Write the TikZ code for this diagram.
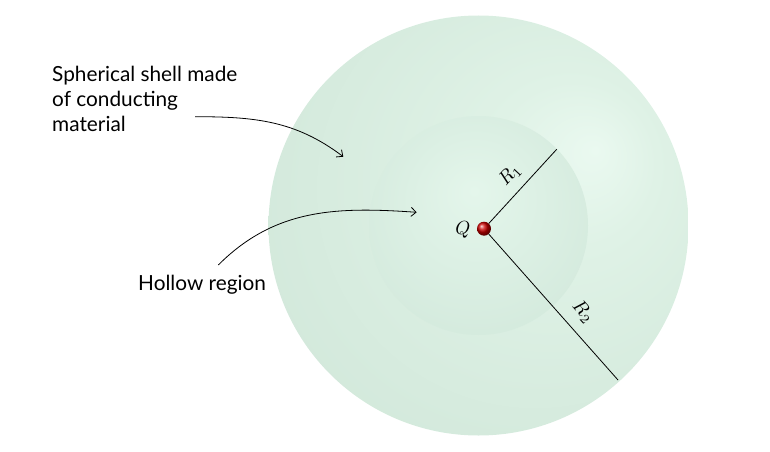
\documentclass[tikz,border=0pt]{standalone}
\usepackage{fontspec}
\setmainfont{Lato}
\usetikzlibrary{arrows.meta}
\definecolor{shellhi}{RGB}{234,249,240}
\definecolor{shellmid}{RGB}{223,242,230}
\definecolor{shelledge}{RGB}{206,229,215}
\definecolor{hollowhi}{RGB}{228,246,235}
\definecolor{hollowedge}{RGB}{212,234,221}
\pgfdeclareradialshading{shellshade}{\pgfpoint{14bp}{9bp}}{color(0bp)=(shellhi); color(10bp)=(shellmid); color(42bp)=(shelledge); color(50bp)=(shelledge)}
\pgfdeclareradialshading{hollowshade}{\pgfpoint{-1bp}{8bp}}{color(0bp)=(hollowhi); color(30bp)=(hollowedge); color(50bp)=(hollowedge)}
\newcommand\bigsym[1]{\scalebox{1.9}{$#1$}}
\tikzset{
 label text/.style={font=\fontsize{20.8}{24.7}\selectfont,align=left,inner sep=0pt},
 pointer/.style={line width=.8pt,-{Straight Barb[length=5pt,width=9pt]}},
 radius line/.style={line width=.8pt},
 sym/.style={inner sep=0pt}
}
\begin{document}
\begin{tikzpicture}[x=1pt,y=1pt]
\useasboundingbox (0,0) rectangle (770,451);
\shade[shading=shellshade] (478.5,225.5) circle (210pt);
\shade[shading=hollowshade] (478.5,225.5) circle (109.5pt);
% labels
\node[label text,anchor=base west] (shelltext) at (52,320) {Spherical shell made\\of conducting\\material};
\node[label text,anchor=base west] (hollowtext) at (138,161) {Hollow region};
\coordinate (shellfrom) at (195,334.3);
\coordinate (shellto) at (343.3,294.3);
\coordinate (hollowfrom) at (218.3,186);
\coordinate (hollowto) at (416.7,238.7);
\draw[pointer] (shellfrom) to[out=0,in=143] (shellto);
\draw[pointer] (hollowfrom) to[out=45,in=176] (hollowto);
% charge and radii
\coordinate (r1end) at (556.7,301.7);
\coordinate (r2end) at (618,71);
\node[circle,inner sep=0pt,minimum size=14pt,ball color=red!80!black] (charge) at (484,222.3) {};
\draw[radius line] (charge) -- (r1end);
\draw[radius line] (charge) -- (r2end);
\node[sym] (qlabel) at (463,221) {\bigsym{Q}};
\node[sym,rotate=47] (r1label) at (510,276) {\bigsym{R_1}};
\node[sym,rotate=-48] (r2label) at (583,139) {\bigsym{R_2}};
\end{tikzpicture}
\end{document}
